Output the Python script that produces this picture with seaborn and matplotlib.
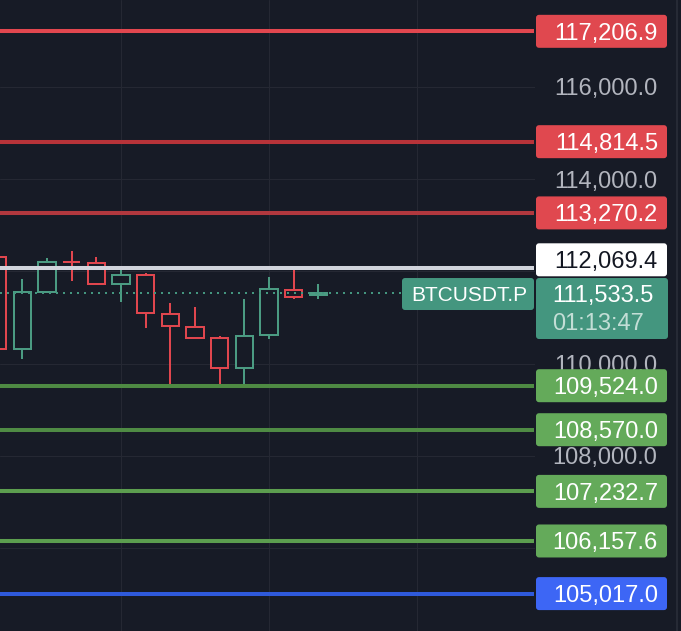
import matplotlib
matplotlib.use("Agg")
import matplotlib.pyplot as plt
import seaborn as sns
from matplotlib.patches import FancyBboxPatch
from matplotlib.ticker import FuncFormatter
from matplotlib.transforms import ScaledTranslation

# candle data (BTCUSDT.P)
candle_idx = list(range(1, 15))
opens  = [112314, 110320, 111556, 112206, 112184, 111729, 111924, 111079, 110797, 110558, 109908, 110623, 111599, 111490]
highs  = [112400, 111837, 112293, 112444, 112314, 112119, 111967, 111317, 111230, 110602, 111404, 111881, 112097, 111729]
lows   = [110200, 110103, 111540, 111794, 111720, 111339, 110775, 109496, 110550, 109518, 109518, 110537, 111404, 111404]
closes = [110320, 111556, 112206, 112200, 111729, 111924, 111100, 110818, 110558, 109908, 110602, 111621, 111447, 111533.5]

# drawn price levels
level_prices = [117206.9, 114814.5, 113270.2, 112069.4, 109524.0, 108570.0, 107232.7, 106157.6, 105017.0]
level_line_colors = ["#E2474F", "#B73339", "#B1383E", "#D1D4DC", "#4E8A43", "#4F8B44", "#5C9E4F", "#5C9E4F", "#2F5ADB"]
level_box_colors = ["#E0484F", "#E0484F", "#E0484F", "#FFFFFF", "#64AA5A", "#64AA5A", "#64AA5A", "#64AA5A", "#3D66F5"]
level_text_colors = ["white", "white", "white", "#131722", "white", "white", "white", "white", "white"]
level_box_shift = [0, 0, 0, -8.5, 0, 0, 0, 0, 0]

symbol = "BTCUSDT.P"
last_price = 111533.5
countdown = "01:13:47"
price_ticks = [104000, 106000, 108000, 110000, 112000, 114000, 116000, 118000]
grid_x = [6, 12, 18]

BG = "#171B26"
GRID = "#252833"
UP = "#4B9B82"
DOWN = "#E0464E"
TEAL = "#44967F"
FS = 17

W, H = 681, 631
YMIN, YMAX = 104206, 117886
upp = (YMAX - YMIN) / H  # price units per pixel

sns.set_theme(style="dark", rc={"axes.facecolor": BG, "figure.facecolor": BG,
                                "grid.color": GRID, "grid.linewidth": 0.75})
plt.rcParams["font.family"] = ["Liberation Sans", "DejaVu Sans"]


def half_cap(fs):
    # half of the digit height in pixels
    return fs / 0.72 * 0.716 / 2


def tick_fmt(v, p):
    # price scale hides labels that sit under a level label
    if any(abs(v - lv) < 400 for lv in level_prices):
        return ""
    return f"{v:,.1f}"


fig = plt.figure(figsize=(W / 100, H / 100), dpi=100)
ax = fig.add_axes([0, 0, 535 / W, 1])
for s in ax.spines.values():
    s.set_visible(False)
ax.set_xticks(grid_x)
ax.set_xticklabels([])
ax.set_yticks(price_ticks)
ax.set_xlim(1.095, 22.78)
ax.set_ylim(YMIN, YMAX)
ax.yaxis.set_major_formatter(FuncFormatter(tick_fmt))
ax.yaxis.tick_right()
ax.tick_params(axis="both", length=0)
ax.tick_params(axis="y", pad=(657 - 535) * 0.72, labelsize=FS, labelcolor="#B2B5BE")
shift = ScaledTranslation(0, -half_cap(FS) / 100, fig.dpi_scale_trans)
for t in ax.get_yticklabels():
    t.set_ha("right")
    t.set_va("baseline")
    t.set_transform(t.get_transform() + shift)
ax.grid(True, color=GRID, linewidth=0.75)

cols = [UP if c >= o else DOWN for o, c in zip(opens, closes)]
ax.vlines(candle_idx, lows, highs, colors=cols, linewidth=1.44, zorder=2)
ax.bar(candle_idx, [abs(c - o) for o, c in zip(opens, closes)],
       bottom=[min(o, c) for o, c in zip(opens, closes)], width=0.70,
       facecolor=BG, edgecolor=cols, linewidth=1.44, zorder=3)
ax.set_ylim(YMIN, YMAX)

# overlay in pixel x units, price y units
ov = fig.add_axes([0, 0, 1, 1])
ov.set_xlim(0, W)
ov.set_ylim(YMIN, YMAX)
ov.axis("off")

ov.hlines(last_price, 0, 402, colors=TEAL, linestyles=(0, (1, 2.5)), linewidth=1.44, zorder=2)
ov.hlines(level_prices, 0, 534, colors=level_line_colors, linewidth=2.9, zorder=3)
ov.vlines(677, YMIN, YMAX, colors="#2A2E39", linewidth=1.2)


def box(x0, x1, top_px, bot_px, y, color):
    p = FancyBboxPatch((x0, y - bot_px * upp), x1 - x0, (top_px + bot_px) * upp,
                       boxstyle="round,pad=0,rounding_size=3", mutation_aspect=upp,
                       facecolor=color, edgecolor="none", zorder=5)
    ov.add_patch(p)


def label(x, y, s, color, ha, fs=FS):
    ov.text(x, y - half_cap(fs) * upp, s, color=color, fontsize=fs, ha=ha, va="baseline", zorder=6)


for price, bc, tc, sh in zip(level_prices, level_box_colors, level_text_colors, level_box_shift):
    yc = price - sh * upp
    box(536, 667, 16.5, 16.5, yc, bc)
    label(658, yc, f"{price:,.1f}", tc, "right")

# last price label
box(536, 668, 15, 46, last_price, TEAL)
label(552, last_price - 1 * upp, f"{last_price:,.1f}", "white", "left")
label(552, last_price - 29 * upp, countdown, "#C3DED6", "left")
box(402, 534, 15, 17, last_price, TEAL)
label(469, last_price - 1 * upp, symbol, "white", "center", fs=15)

fig.savefig("out.png", dpi=100, facecolor=BG)
